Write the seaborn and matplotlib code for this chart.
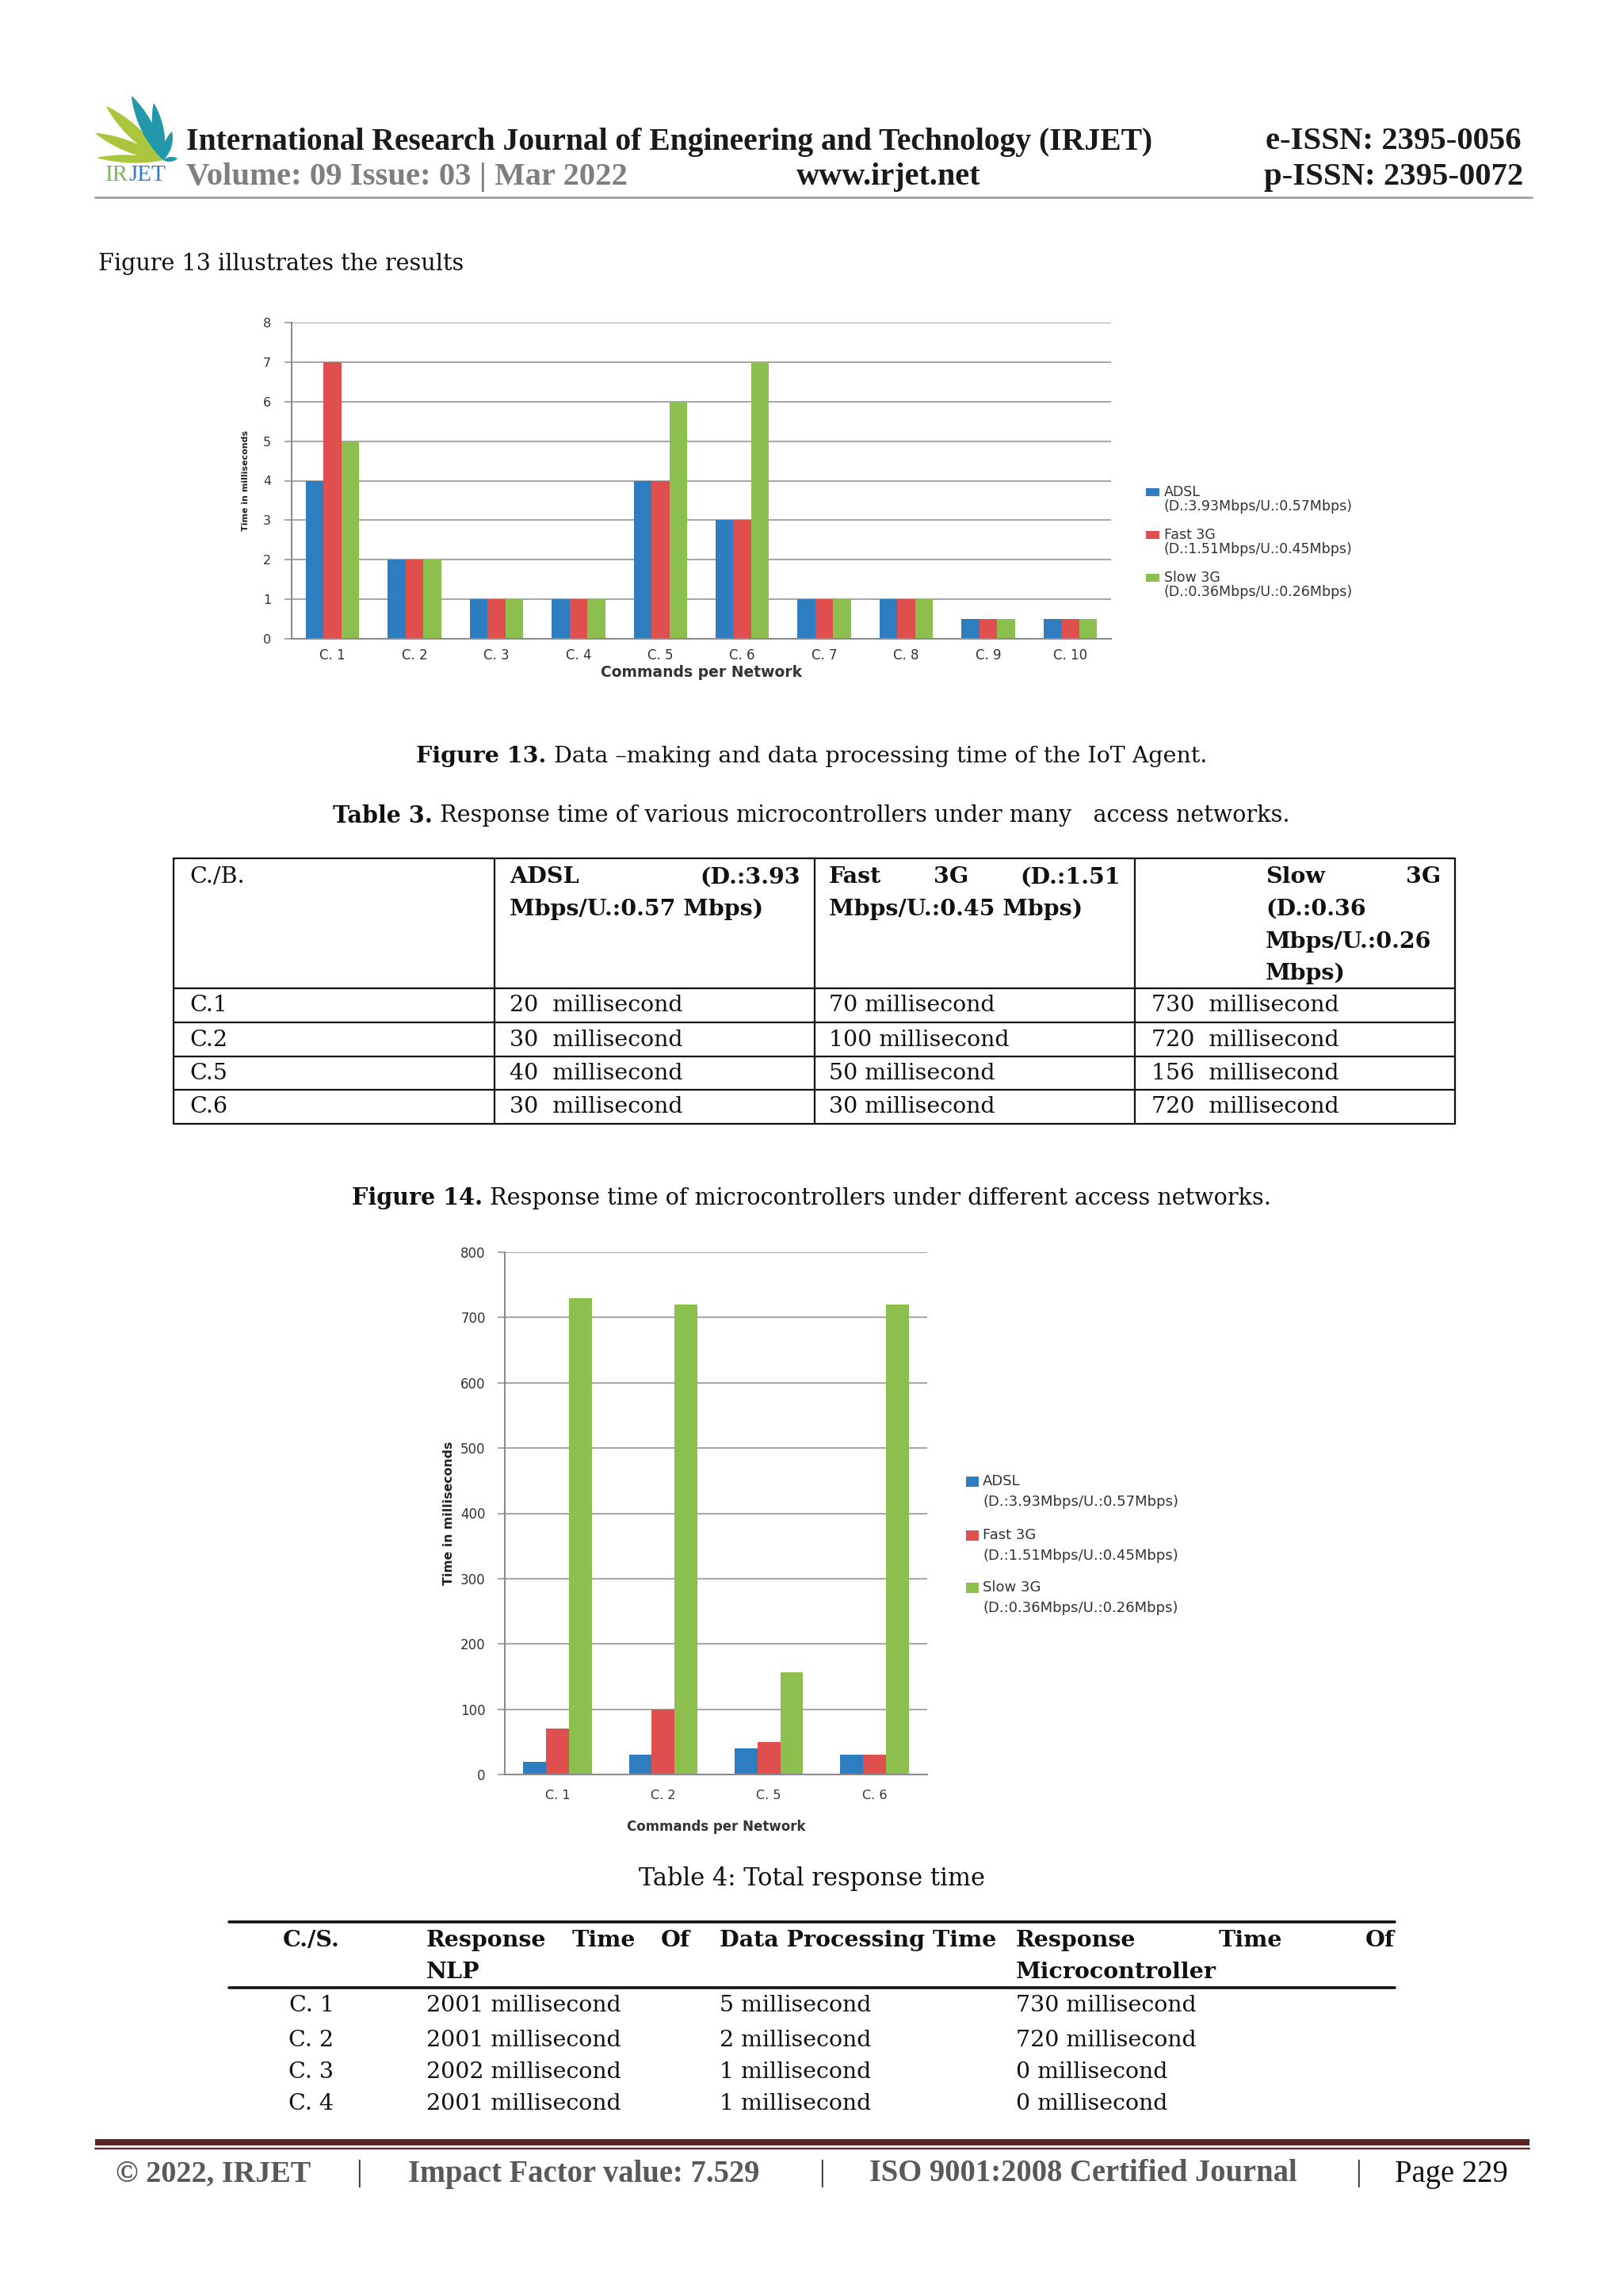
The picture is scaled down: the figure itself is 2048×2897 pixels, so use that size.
import matplotlib
matplotlib.use("Agg")
import matplotlib.pyplot as plt
from matplotlib.patches import Rectangle, Polygon
import numpy as np
import pandas as pd
import seaborn as sns

W, H = 2048, 2897
SERIF = "DejaVu Serif"
HEAD = "Liberation Serif"
SANS = "DejaVu Sans"

# chart data
networks = ["ADSL", "Fast 3G", "Slow 3G"]
network_speeds = ["(D.:3.93Mbps/U.:0.57Mbps)", "(D.:1.51Mbps/U.:0.45Mbps)",
                  "(D.:0.36Mbps/U.:0.26Mbps)"]
bar_colors = ["#2e7dc0", "#de4f4d", "#8dbf4f"]

fig13_commands = ["C. 1", "C. 2", "C. 3", "C. 4", "C. 5", "C. 6", "C. 7", "C. 8", "C. 9", "C. 10"]
fig13_adsl = [4, 2, 1, 1, 4, 3, 1, 1, 0.5, 0.5]
fig13_fast3g = [7, 2, 1, 1, 4, 3, 1, 1, 0.5, 0.5]
fig13_slow3g = [5, 2, 1, 1, 6, 7, 1, 1, 0.5, 0.5]
fig13_yticks = [0, 1, 2, 3, 4, 5, 6, 7, 8]

fig14_commands = ["C. 1", "C. 2", "C. 5", "C. 6"]
fig14_adsl = [20, 30, 40, 30]
fig14_fast3g = [70, 100, 50, 30]
fig14_slow3g = [730, 720, 156, 720]
fig14_yticks = [0, 100, 200, 300, 400, 500, 600, 700, 800]

# table data
table3_rows = ["C.1", "C.2", "C.5", "C.6"]
table3_adsl = ["20  millisecond", "30  millisecond", "40  millisecond", "30  millisecond"]
table3_fast = ["70 millisecond", "100 millisecond", "50 millisecond", "30 millisecond"]
table3_slow = ["730  millisecond", "720  millisecond", "156  millisecond", "720  millisecond"]

table4_rows = ["C. 1", "C. 2", "C. 3", "C. 4"]
table4_nlp = ["2001 millisecond", "2001 millisecond", "2002 millisecond", "2001 millisecond"]
table4_processing = ["5 millisecond", "2 millisecond", "1 millisecond", "1 millisecond"]
table4_micro = ["730 millisecond", "720 millisecond", "0 millisecond", "0 millisecond"]

sns.set_theme(style="white")
plt.rcParams["font.family"] = [SANS]

fig = plt.figure(figsize=(W / 100, H / 100), dpi=100)
fig.set_facecolor("white")
page = fig.add_axes([0, 0, 1, 1])
page.set_xlim(0, W)
page.set_ylim(H, 0)
page.axis("off")
renderer = fig.canvas.get_renderer()


def say(x, y, s, size, family=SERIF, weight="normal", color="#111111", ha="left"):
    return page.text(x, y, s, fontsize=size, family=family, fontweight=weight,
                     color=color, ha=ha, va="center")


def width_of(t):
    return t.get_window_extent(renderer).width


def justify(words, x0, x1, y, size, weight="bold"):
    texts = [say(x0, y, w, size, weight=weight) for w in words]
    widths = [width_of(t) for t in texts]
    gap = (x1 - x0 - sum(widths)) / (len(words) - 1)
    x = x0
    for t, w in zip(texts, widths):
        t.set_x(x)
        x += w + gap


def caption(bold, rest, y, size):
    t1 = say(0, y, bold, size, weight="bold")
    t2 = say(0, y, rest, size)
    w1, w2 = width_of(t1), width_of(t2)
    x0 = W / 2 - (w1 + w2) / 2
    t1.set_x(x0)
    t2.set_x(x0 + w1)


def leaf(base, tip, half_width, color):
    b = np.array(base, float)
    d = np.array(tip, float) - b
    n = np.array([-d[1], d[0]]) / np.hypot(*d)
    s = np.linspace(0, 1, 25)
    bulge = half_width * np.sin(np.pi * s) ** 0.8
    left = b + np.outer(s, d) + np.outer(bulge, n)
    right = b + np.outer(s, d) - np.outer(bulge, n)
    page.add_patch(Polygon(np.vstack([left, right[::-1]]), closed=True, color=color, lw=0))


def px_axes(left, top, right, bottom):
    return fig.add_axes([left / W, 1 - bottom / H, (right - left) / W, (bottom - top) / H])


def long_frame(commands, series):
    rows = []
    for net, vals in zip(networks, series):
        for c, v in zip(commands, vals):
            rows.append({"command": c, "network": net, "time": v})
    return pd.DataFrame(rows)


def draw_chart(ax, commands, series, yticks, ytick_fs, xtick_fs, ypad, xpad,
               label_fs, ylabel_fs, xlabel_y, ylabel_x):
    df = long_frame(commands, series)
    sns.barplot(data=df, x="command", y="time", hue="network", hue_order=networks,
                palette=bar_colors, width=0.65, saturation=1, linewidth=0,
                errorbar=None, legend=False, ax=ax)
    ax.set_xlim(-0.5, len(commands) - 0.5)
    ax.set_ylim(yticks[0], yticks[-1])
    ax.set_yticks(yticks)
    ax.grid(False)
    ax.yaxis.grid(True, color="#a8a8a8", linewidth=1.5)
    ax.set_axisbelow(True)
    for side in ("top", "right"):
        ax.spines[side].set_visible(False)
    for side in ("left", "bottom"):
        ax.spines[side].set_color("#8c8c8c")
        ax.spines[side].set_linewidth(1.5)
    ax.tick_params(axis="y", length=6.5, width=1.5, color="#a8a8a8", pad=ypad,
                   labelsize=ytick_fs, labelcolor="#333333", left=True)
    ax.tick_params(axis="x", length=0, pad=xpad, labelsize=xtick_fs, labelcolor="#333333")
    ax.set_xlabel("Commands per Network", fontsize=label_fs, fontweight="bold", color="#333333")
    ax.set_ylabel("Time in milliseconds", fontsize=ylabel_fs, fontweight="bold", color="#222222")
    ax.xaxis.set_label_coords(0.5, xlabel_y)
    ax.yaxis.set_label_coords(ylabel_x, 0.5)


def chart_legend(x_sq, sq_w, sq_h, x_txt, ys, gap, fs):
    for i, y in enumerate(ys):
        page.add_patch(Rectangle((x_sq, y - sq_h / 2), sq_w, sq_h, color=bar_colors[i], lw=0))
        say(x_txt, y, networks[i], fs, family=SANS, color="#333333")
        say(x_txt, y + gap, network_speeds[i], fs, family=SANS, color="#333333")


# ---- header ----
leaves = [((206, 202), (122, 199), 5, "#a9c63c"),
          ((206, 202), (120, 168), 7, "#a9c63c"),
          ((206, 202), (134, 134), 8, "#a9c63c"),
          ((206, 202), (166, 121), 8, "#2398ab"),
          ((206, 202), (194, 130), 7, "#2398ab"),
          ((206, 202), (217, 166), 5, "#2398ab"),
          ((206, 202), (224, 200), 3, "#2398ab")]
for base, tip, hw, col in leaves:
    leaf(base, tip, hw, col)
t_ir = say(133, 221, "IR", 21, family=HEAD, color="#7fb85c")
say(133 + width_of(t_ir), 221, "JET", 21, family=HEAD, color="#2f7fc4")

say(235, 179, "International Research Journal of Engineering and Technology (IRJET)", 28.5,
    family=HEAD, weight="bold", color="#1a1a1a")
say(1920, 179, "e-ISSN: 2395-0056", 29.3, family=HEAD, weight="bold", color="#1a1a1a", ha="right")
say(235, 224, "Volume: 09 Issue: 03 | Mar 2022", 29.3, family=HEAD, weight="bold", color="#7f7f7f")
say(1121, 224, "www.irjet.net", 29, family=HEAD, weight="bold", color="#1a1a1a", ha="center")
say(1922, 224, "p-ISSN: 2395-0072", 29.3, family=HEAD, weight="bold", color="#1a1a1a", ha="right")
page.plot([120, 1933], [249, 249], color="#a6a6a6", lw=2.2)

say(124, 333, "Figure 13 illustrates the results", 20.6)

# ---- figure 13 ----
ax1 = px_axes(368, 407, 1402, 806)
draw_chart(ax1, fig13_commands, [fig13_adsl, fig13_fast3g, fig13_slow3g], fig13_yticks,
           ytick_fs=11.5, xtick_fs=12, ypad=12, xpad=8.5, label_fs=13.5, ylabel_fs=8,
           xlabel_y=-0.082, ylabel_x=-0.051)
chart_legend(1446, 17, 10, 1469, [621, 675, 729], 18, 12.5)

caption("Figure 13.", " Data \u2013making and data processing time of the IoT Agent.", 955, 20.5)
caption("Table 3.", " Response time of various microcontrollers under many   access networks.", 1029, 20.6)

# ---- table 3 ----
t3_cols = [219, 624, 1028, 1432, 1836]
t3_rules = [1083, 1247, 1290, 1333, 1375, 1418]
for y in t3_rules:
    page.plot([t3_cols[0], t3_cols[-1]], [y, y], color="#111111", lw=1.6)
for x in t3_cols:
    page.plot([x, x], [t3_rules[0], t3_rules[-1]], color="#111111", lw=1.6)
fs_t = 20.5
say(239, 1107, "C./B.", fs_t)
justify(["ADSL", "(D.:3.93"], 643, 1010, 1107, fs_t)
say(643, 1147, "Mbps/U.:0.57 Mbps)", fs_t, weight="bold")
justify(["Fast", "3G", "(D.:1.51"], 1046, 1414, 1107, fs_t)
say(1046, 1147, "Mbps/U.:0.45 Mbps)", fs_t, weight="bold")
justify(["Slow", "3G"], 1597, 1818, 1107, fs_t)
for y, s in zip([1147, 1188, 1228], ["(D.:0.36", "Mbps/U.:0.26", "Mbps)"]):
    say(1597, y, s, fs_t, weight="bold")
for i, y in enumerate([1269, 1312, 1354, 1397]):
    say(239, y, table3_rows[i], fs_t)
    say(643, y, table3_adsl[i], fs_t)
    say(1046, y, table3_fast[i], fs_t)
    say(1453, y, table3_slow[i], fs_t)

caption("Figure 14.", " Response time of microcontrollers under different access networks.", 1512, 20.6)

# ---- figure 14 ----
ax2 = px_axes(637, 1580, 1170, 2239)
draw_chart(ax2, fig14_commands, [fig14_adsl, fig14_fast3g, fig14_slow3g], fig14_yticks,
           ytick_fs=12, xtick_fs=11.5, ypad=11, xpad=14, label_fs=12, ylabel_fs=11.3,
           xlabel_y=-0.0865, ylabel_x=-0.1175)
chart_legend(1219, 16, 13, 1240, [1869, 1937, 2003], 26, 13)

caption("", "Table 4: Total response time", 2371, 22)

# ---- table 4 ----
page.plot([289, 1760], [2425, 2425], color="#111111", lw=2.6)
page.plot([289, 1760], [2508, 2508], color="#111111", lw=2.6)
say(393, 2448, "C./S.", fs_t, weight="bold", ha="center")
justify(["Response", "Time", "Of"], 538, 871, 2448, fs_t)
say(538, 2488, "NLP", fs_t, weight="bold")
say(908, 2448, "Data Processing Time", fs_t, weight="bold")
justify(["Response", "Time", "Of"], 1282, 1760, 2448, fs_t)
say(1282, 2488, "Microcontroller", fs_t, weight="bold")
for i, y in enumerate([2530, 2575, 2615, 2655]):
    say(393, y, table4_rows[i], fs_t, ha="center")
    say(538, y, table4_nlp[i], fs_t)
    say(908, y, table4_processing[i], fs_t)
    say(1282, y, table4_micro[i], fs_t)

# ---- footer ----
page.add_patch(Rectangle((120, 2699), 1810, 8, color="#5c2424", lw=0))
page.plot([120, 1930], [2711, 2711], color="#5c2424", lw=1.6)
foot = "#595959"
say(146, 2743, "\u00a9 2022, IRJET", 27.5, family=HEAD, weight="bold", color=foot)
say(449, 2743, "|", 27.5, family=HEAD, color="#333333")
say(515, 2743, "Impact Factor value: 7.529", 27.8, family=HEAD, weight="bold", color=foot)
say(1033, 2743, "|", 27.5, family=HEAD, color="#333333")
say(1097, 2743, "ISO 9001:2008 Certified Journal", 27.8, family=HEAD, weight="bold", color=foot)
say(1710, 2743, "|", 27.5, family=HEAD, color="#333333")
say(1760, 2743, "Page 229", 27.8, family=HEAD, color="#111111")

fig.savefig("out.png", dpi=100, facecolor="white")
